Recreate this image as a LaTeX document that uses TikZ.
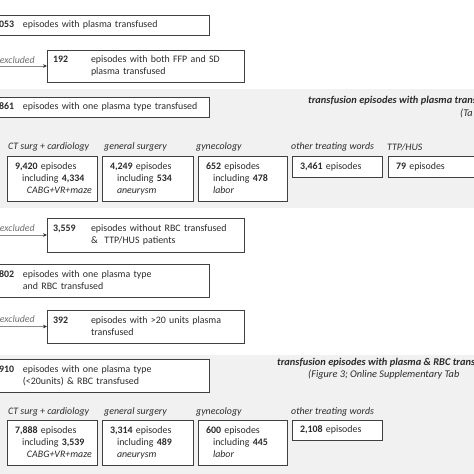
\documentclass[tikz,border=0pt]{standalone}
\usepackage{fontspec}
\setmainfont{Carlito}
\usetikzlibrary{arrows.meta}
\definecolor{panelgray}{HTML}{F1F1F1}
\definecolor{boxline}{HTML}{404040}
\definecolor{txt}{HTML}{2B2B2B}
\definecolor{excl}{HTML}{707070}
\definecolor{exline}{HTML}{8A8A8A}
\begin{document}
\begin{tikzpicture}[x=1pt,y=-1pt,
  font=\fontsize{9.9}{12}\selectfont, text=txt,
  box/.style={draw=boxline, line width=1pt, fill=white, anchor=north west,
    align=left, inner ysep=0pt, outer sep=0pt},
  catlabel/.style={anchor=west, inner sep=0pt, font=\fontsize{9.9}{12}\selectfont\itshape},
  exlabel/.style={anchor=east, inner sep=0pt, text=excl, font=\fontsize{9.9}{12}\selectfont\itshape},
  exarrow/.style={draw=exline, line width=0.8pt, -{Stealth[length=4pt,width=3.6pt,color=black!80]}},
  paneltitle/.style={anchor=west, inner sep=0pt, font=\fontsize{10.4}{12}\selectfont\bfseries\itshape},
  panelsub/.style={anchor=west, inner sep=0pt, font=\fontsize{10.3}{12}\selectfont\itshape}
]
\useasboundingbox (0,0) rectangle (474,474);
\clip (0,0) rectangle (474,474);

% panels
\fill[panelgray] (-1,89) rectangle (475,208);
\fill[panelgray] (-1,355) rectangle (475,476);

% top flow
\node[box, minimum width=221pt, minimum height=20pt, inner xsep=11pt, text width=199pt] (b1) at (-12,15)
  {\mbox{\makebox[24pt][l]{\textbf{053}}episodes with plasma transfused}};
\node[box, minimum width=197pt, minimum height=32pt, inner xsep=6pt, text width=185pt] (x1) at (47,50)
  {\mbox{\makebox[38pt][l]{\textbf{192}}episodes with both FFP and SD}\\\mbox{\hspace*{38pt}plasma transfused}};
\node[exlabel] (xl1) at (35,60) {excluded};
\coordinate (e1) at (-2,0);
\draw[exarrow] (e1 |- x1.west) -- (x1.west);

% panel 1
\node[box, minimum width=221pt, minimum height=20pt, inner xsep=11pt, text width=199pt] (b2) at (-12,97)
  {\mbox{\makebox[24pt][l]{\textbf{861}}episodes with one plasma type transfused}};
\node[paneltitle] (t1) at (308,101) {transfusion episodes with plasma trans};
\node[panelsub] (t1s) at (460,113) {(Ta};

\node[catlabel] (lct1) at (8,147) {CT surg + cardiology};
\node[catlabel] (lgs1) at (104,147) {general surgery};
\node[catlabel] (lgy1) at (196,147) {gynecology};
\node[catlabel] (lot1) at (291,147) {other treating words};
\node[catlabel] (ltt1) at (387,147) {TTP/HUS};

\node[box, minimum width=90pt, minimum height=45pt, inner xsep=8pt, text width=74pt] (ct1) at (7,156)
  {\textbf{9,420} episodes\\\hspace*{7pt}including \textbf{4,334}\\\hspace*{12pt}\textit{CABG+VR+maze}};
\node[box, minimum width=91pt, minimum height=45pt, inner xsep=8pt, text width=75pt] (gs1) at (102,156)
  {\textbf{4,249} episodes\\\hspace*{7pt}including \textbf{534}\\\hspace*{7pt}\textit{aneurysm}};
\node[box, minimum width=89pt, minimum height=45pt, inner xsep=8pt, text width=73pt] (gy1) at (198,156)
  {\textbf{652} episodes\\\hspace*{7pt}including \textbf{478}\\\hspace*{7pt}\textit{labor}};
\node[box, minimum width=90pt, minimum height=21pt, inner xsep=8pt, text width=74pt] (ot1) at (292,156)
  {\textbf{3,461} episodes};
\node[box, minimum width=100pt, minimum height=21pt, inner xsep=8pt, text width=84pt] (tt1) at (388,156)
  {\textbf{79} episodes};

% middle flow
\node[box, minimum width=197pt, minimum height=34pt, inner xsep=6pt, text width=185pt] (x2) at (47,218)
  {\mbox{\makebox[38pt][l]{\textbf{3,559}}episodes without RBC transfused}\\\mbox{\hspace*{38pt}\&~~TTP/HUS patients}};
\node[exlabel] (xl2) at (35,228) {excluded};
\coordinate (e2) at (-2,0);
\draw[exarrow] (e2 |- x2.west) -- (x2.west);

\node[box, minimum width=221pt, minimum height=33pt, inner xsep=11pt, text width=199pt] (b3) at (-12,264)
  {\mbox{\makebox[24pt][l]{\textbf{802}}episodes with one plasma type}\\\mbox{\hspace*{24pt}and RBC transfused}};

\node[box, minimum width=197pt, minimum height=33pt, inner xsep=6pt, text width=185pt] (x3) at (47,310)
  {\mbox{\makebox[38pt][l]{\textbf{392}}episodes with >20 units plasma}\\\mbox{\hspace*{38pt}transfused}};
\node[exlabel] (xl3) at (35,319) {excluded};
\coordinate (e3) at (-2,0);
\draw[exarrow] (e3 |- x3.west) -- (x3.west);

% panel 2
\node[box, minimum width=221pt, minimum height=33pt, inner xsep=11pt, text width=199pt] (b4) at (-12,359)
  {\mbox{\makebox[24pt][l]{\textbf{910}}episodes with one plasma type}\\\mbox{\hspace*{24pt}(<20units) \& RBC transfused}};
\node[paneltitle] (t2) at (277,363) {transfusion episodes with plasma \& RBC trans};
\node[panelsub] (t2s) at (308,375) {(Figure 3; Online Supplementary Tab};

\node[catlabel] (lct2) at (8,412) {CT surg + cardiology};
\node[catlabel] (lgs2) at (104,412) {general surgery};
\node[catlabel] (lgy2) at (196,412) {gynecology};
\node[catlabel] (lot2) at (291,412) {other treating words};

\node[box, minimum width=90pt, minimum height=45pt, inner xsep=8pt, text width=74pt] (ct2) at (7,420)
  {\textbf{7,888} episodes\\\hspace*{7pt}including \textbf{3,539}\\\hspace*{12pt}\textit{CABG+VR+maze}};
\node[box, minimum width=91pt, minimum height=45pt, inner xsep=8pt, text width=75pt] (gs2) at (102,420)
  {\textbf{3,314} episodes\\\hspace*{7pt}including \textbf{489}\\\hspace*{7pt}\textit{aneurysm}};
\node[box, minimum width=89pt, minimum height=45pt, inner xsep=8pt, text width=73pt] (gy2) at (198,420)
  {\textbf{600} episodes\\\hspace*{7pt}including \textbf{445}\\\hspace*{7pt}\textit{labor}};
\node[box, minimum width=90pt, minimum height=20pt, inner xsep=8pt, text width=74pt] (ot2) at (292,420)
  {\textbf{2,108} episodes};
\end{tikzpicture}
\end{document}
